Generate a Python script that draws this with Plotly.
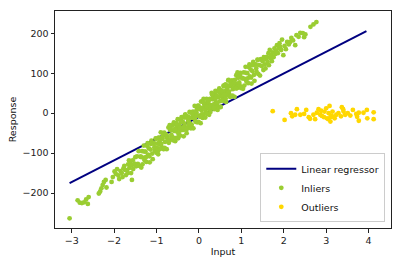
import plotly.graph_objects as go

inlier_x = [
    -3.05, -2.86, -2.81, -2.76, -2.71, -2.66, -2.62, -2.60,
    -2.36, -2.33, -2.30, -2.27, -2.24, -2.20, -2.18,
    -2.06, -2.03, -1.99, -1.96, -1.93, -1.90,
    -1.88, -1.85, -1.82, -1.80, -1.78, -1.76, -1.74, -1.72, -1.70, -1.68, -1.67,
    -1.65, -1.64, -1.62, -1.60, -1.60, -1.58, -1.58, -1.56, -1.55, -1.52, -1.50, -1.48,
    -1.46, -1.44, -1.42, -1.40, -1.38, -1.36, -1.34, -1.32, -1.30, -1.28,
    -1.26, -1.24, -1.22, -1.20, -1.18, -1.16, -1.14, -1.12, -1.10, -1.08,
    -1.06, -1.04, -1.02, -1.00, -0.98, -0.96, -0.94, -0.92, -0.90, -0.88,
    -0.86, -0.84, -0.82, -0.80, -0.78, -0.76, -0.74, -0.72, -0.70, -0.68,
    -0.66, -0.64, -0.62, -0.60, -0.58, -0.56, -0.54, -0.52, -0.50, -0.48,
    -0.46, -0.44, -0.42, -0.40, -0.38, -0.36, -0.34, -0.32, -0.30, -0.28,
    -0.26, -0.24, -0.22, -0.20, -0.18, -0.16, -0.14, -0.12, -0.10, -0.08,
    -0.06, -0.04, -0.02, 0.00, 0.02, 0.04, 0.06, 0.08, 0.10, 0.12,
    0.14, 0.16, 0.18, 0.20, 0.22, 0.24, 0.26, 0.28, 0.30, 0.32,
    0.34, 0.36, 0.38, 0.40, 0.42, 0.44, 0.46, 0.48, 0.50, 0.52,
    0.54, 0.56, 0.58, 0.60, 0.62, 0.64, 0.66, 0.68, 0.70, 0.72,
    0.74, 0.76, 0.78, 0.80, 0.82, 0.84, 0.86, 0.88, 0.90, 0.92,
    0.94, 0.96, 0.98, 1.00, 1.02, 1.04, 1.06, 1.08, 1.10, 1.12,
    1.14, 1.16, 1.18, 1.20, 1.22, 1.24, 1.26, 1.28, 1.30, 1.32,
    1.34, 1.36, 1.38, 1.40, 1.42, 1.44, 1.46,
    -0.99, -0.95, -0.91, -0.87, -0.83, -0.79, -0.75, -0.71, -0.67, -0.63,
    -0.59, -0.55, -0.51, -0.47, -0.43, -0.39, -0.35, -0.31, -0.27, -0.23,
    -0.19, -0.15, -0.11, -0.07, -0.03, 0.01, 0.05, 0.09, 0.13, 0.17,
    0.21, 0.25, 0.29, 0.33, 0.37, 0.41, 0.45, 0.49, 0.53, 0.57,
    0.61, 0.65, 0.69, 0.73, 0.77, 0.81, 0.85, 0.89, 0.93, 0.97,
    -1.37, -1.33, -1.29, -1.25, -1.21, -1.17, -1.13, -1.09, -1.05, -1.01,
    -0.97, -0.93, -0.89, -0.85, -0.81, -0.77, -0.73, -0.69, -0.65, -0.61,
    -0.57, -0.53, -0.49, -0.45, -0.41, -0.37, -0.33, -0.29, -0.25, -0.21,
    -0.17, -0.13, -0.09, -0.05, -0.01, 0.03, 0.07, 0.11, 0.15, 0.19,
    0.23, 0.27, 0.31, 0.35, 0.39, 0.43, 0.47, 0.51, 0.55, 0.59,
    0.63, 0.67, 0.71, 0.75, 0.79, 0.83, 0.87, 0.91, 0.95, 0.99,
    1.03, 1.07, 1.11, 1.15, 1.19, 1.23, 1.27, 1.31, 1.35, 1.39,
    -0.61, -0.57, -0.53, -0.49, -0.45, -0.41, -0.37, -0.33, -0.29, -0.25,
    -0.21, -0.17, -0.13, -0.09, -0.05, -0.01, 0.03, 0.07, 0.11, 0.15,
    0.19, 0.23, 0.27, 0.31, 0.35, 0.39, 0.43, 0.47, 0.51, 0.55,
    0.59, 0.63,
    1.48, 1.50, 1.52, 1.53, 1.55, 1.57, 1.58, 1.60, 1.62, 1.64,
    1.65, 1.67, 1.68, 1.70, 1.72, 1.74, 1.76, 1.78, 1.80, 1.82,
    1.84, 1.86, 1.88, 1.90, 1.92, 1.94, 1.96, 1.99, 2.02, 2.05,
    2.08, 2.12, 2.15, 2.18, 2.22, 2.27, 2.30, 2.35, 2.39, 2.45,
    2.48, 2.51, 2.63, 2.70, 2.77,
]
inlier_y = [
    -263, -218, -224, -225, -223, -216, -227, -210,
    -201, -196, -188, -180, -172, -167, -186,
    -172, -160, -146, -152, -140, -156,
    -165, -145, -150, -160, -138, -132, -142, -155, -143, -150, -128,
    -118, -137, -122, -150, -130, -130, -167, -118, -140, -126, -110, -133,
    -108, -127, -95, -132, -109, -136, -95, -111, -81, -118,
    -96, -122, -82, -104, -88, -123, -91, -69, -101, -75,
    -75, -94, -63, -99, -76, -103, -62, -78, -48, -85,
    -64, -89, -49, -72, -55, -90, -59, -36, -68, -42,
    -42, -61, -30, -66, -44, -70, -29, -46, -15, -52,
    -31, -56, -16, -39, -22, -58, -26, -3, -36, -9,
    -9, -29, 3, -33, -11, -37, 4, -13, 18, -20,
    2, -23, 16, -6, 11, -25, 7, 30, -3, 24,
    23, 4, 36, -1, 22, -4, 36, 20, 51, 13,
    35, 10, 49, 27, 43, 8, 40, 62, 30, 57,
    56, 37, 69, 32, 55, 28, 69, 53, 83, 46,
    68, 42, 82, 60, 76, 41, 73, 95, 63, 89,
    89, 70, 101, 65, 88, 61, 102, 86, 116, 79,
    100, 75, 115, 92, 109, 74, 105, 128, 96, 122,
    122, 103, 134, 98, 120, 94, 135,
    -86, -61, -89, -63, -90, -54, -62, -74, -35, -60,
    -23, -64, -36, -41, -22, -42, -34, -8, -36, -11,
    -38, -1, -9, -22, 18, -7, 29, -12, 17, 12,
    30, 10, 19, 44, 16, 42, 15, 51, 43, 31,
    70, 45, 82, 41, 69, 64, 83, 63, 71, 97,
    -109, -128, -96, -110, -75, -108, -77, -115, -85, -64,
    -95, -70, -77, -57, -87, -54, -69, -30, -54, -68,
    -44, -62, -30, -44, -10, -42, -11, -50, -20, 2,
    -29, -5, -11, 9, -22, 11, -3, 36, 11, -2,
    22, 3, 35, 22, 56, 23, 55, 16, 46, 67,
    37, 61, 54, 75, 44, 77, 62, 102, 77, 63,
    87, 69, 101, 87, 122, 89, 120, 81, 112, 133,
    -61, -40, -25, -63, -37, -22, -36, -5, -40, -17,
    -26, 1, -38, 1, -6, 19, -9, 13, 27, -11,
    16, 31, 16, 47, 13, 36, 26, 54, 15, 53,
    46, 72,
    118, 130, 108, 140, 122, 112, 135, 141, 128, 150,
    120, 158, 138, 145, 130, 152, 140, 162, 148, 155,
    170, 150, 162, 175, 166, 158, 184, 145, 168, 160,
    178, 172, 178, 188, 182, 170, 195, 191, 201, 200,
    190, 197, 216, 222, 228,
]

outlier_x = [
    1.74, 2.02, 2.17, 2.27, 2.31, 2.39, 2.48, 2.53, 2.62, 2.70,
    2.78, 2.82, 2.86, 2.90, 2.96, 3.00, 3.06, 3.10, 3.15, 3.08,
    3.18, 3.24, 3.29, 3.37, 3.41, 3.45, 3.51, 3.57, 3.63, 3.71,
    3.73, 3.77, 3.88, 3.96, 4.12, 4.12, 3.97, 3.77, 3.10, 2.74,
    3.20, 3.02, 2.59, 2.20, 2.95, 3.35, 3.05, 2.88, 3.12, 3.40,
]
outlier_y = [
    5, -17, 0, -4, 10, -4, -2, 8, -14, -4,
    1, 10, -4, -7, 4, 12, 0, -10, 4, 18,
    -9, -4, 0, 15, 4, -4, 0, -6, 8, -2,
    -9, 1, 1, 8, 2, -15, -13, -19, -21, -15,
    -13, -13, -10, -8, -10, -8, -15, 6, -6, 10,
]

line_x = [-3.05, 3.95]
line_y = [-175, 205]

FS = 9.5

fig = go.Figure()
fig.add_trace(go.Scatter(x=line_x, y=line_y, mode="lines", name="Linear regressor",
                         line=dict(color="navy", width=2)))
fig.add_trace(go.Scatter(x=inlier_x, y=inlier_y, mode="markers", name="Inliers",
                         marker=dict(color="yellowgreen", size=4.8, line=dict(width=0))))
fig.add_trace(go.Scatter(x=outlier_x, y=outlier_y, mode="markers", name="Outliers",
                         marker=dict(color="gold", size=4.8, line=dict(width=0))))

axis_common = dict(showline=True, linecolor="#222", linewidth=1, mirror=True,
                   ticks="outside", ticklen=3.5, tickcolor="#222", tickwidth=1,
                   showgrid=False, zeroline=False,
                   tickfont=dict(family="DejaVu Sans", size=FS, color="#222"))

fig.update_layout(
    width=400, height=266,
    margin=dict(l=55, r=9, t=11, b=38),
    paper_bgcolor="white", plot_bgcolor="white",
    font=dict(family="DejaVu Sans", size=FS, color="#111"),
    xaxis=dict(range=[-3.394, 4.529], tickvals=[-3, -2, -1, 0, 1, 2, 3, 4],
               ticktext=["\u22123", "\u22122", "\u22121", "0", "1", "2", "3", "4"],
               title=dict(text="Input", font=dict(size=FS, color="#111"), standoff=3), **axis_common),
    yaxis=dict(range=[-287.3, 255.6], tickvals=[-200, -100, 0, 100, 200],
               ticktext=["\u2212200", "\u2212100", "0", "100", "200"],
               title=dict(text="Response", font=dict(size=FS, color="#111"), standoff=4), **axis_common),
    legend=dict(x=0.983, y=0.026, xanchor="right", yanchor="bottom",
                bgcolor="rgba(255,255,255,0.8)", bordercolor="#ccc", borderwidth=1,
                font=dict(size=FS, color="#111"), itemwidth=30, tracegroupgap=0),
    showlegend=True,
)

fig.write_html("out.html")
